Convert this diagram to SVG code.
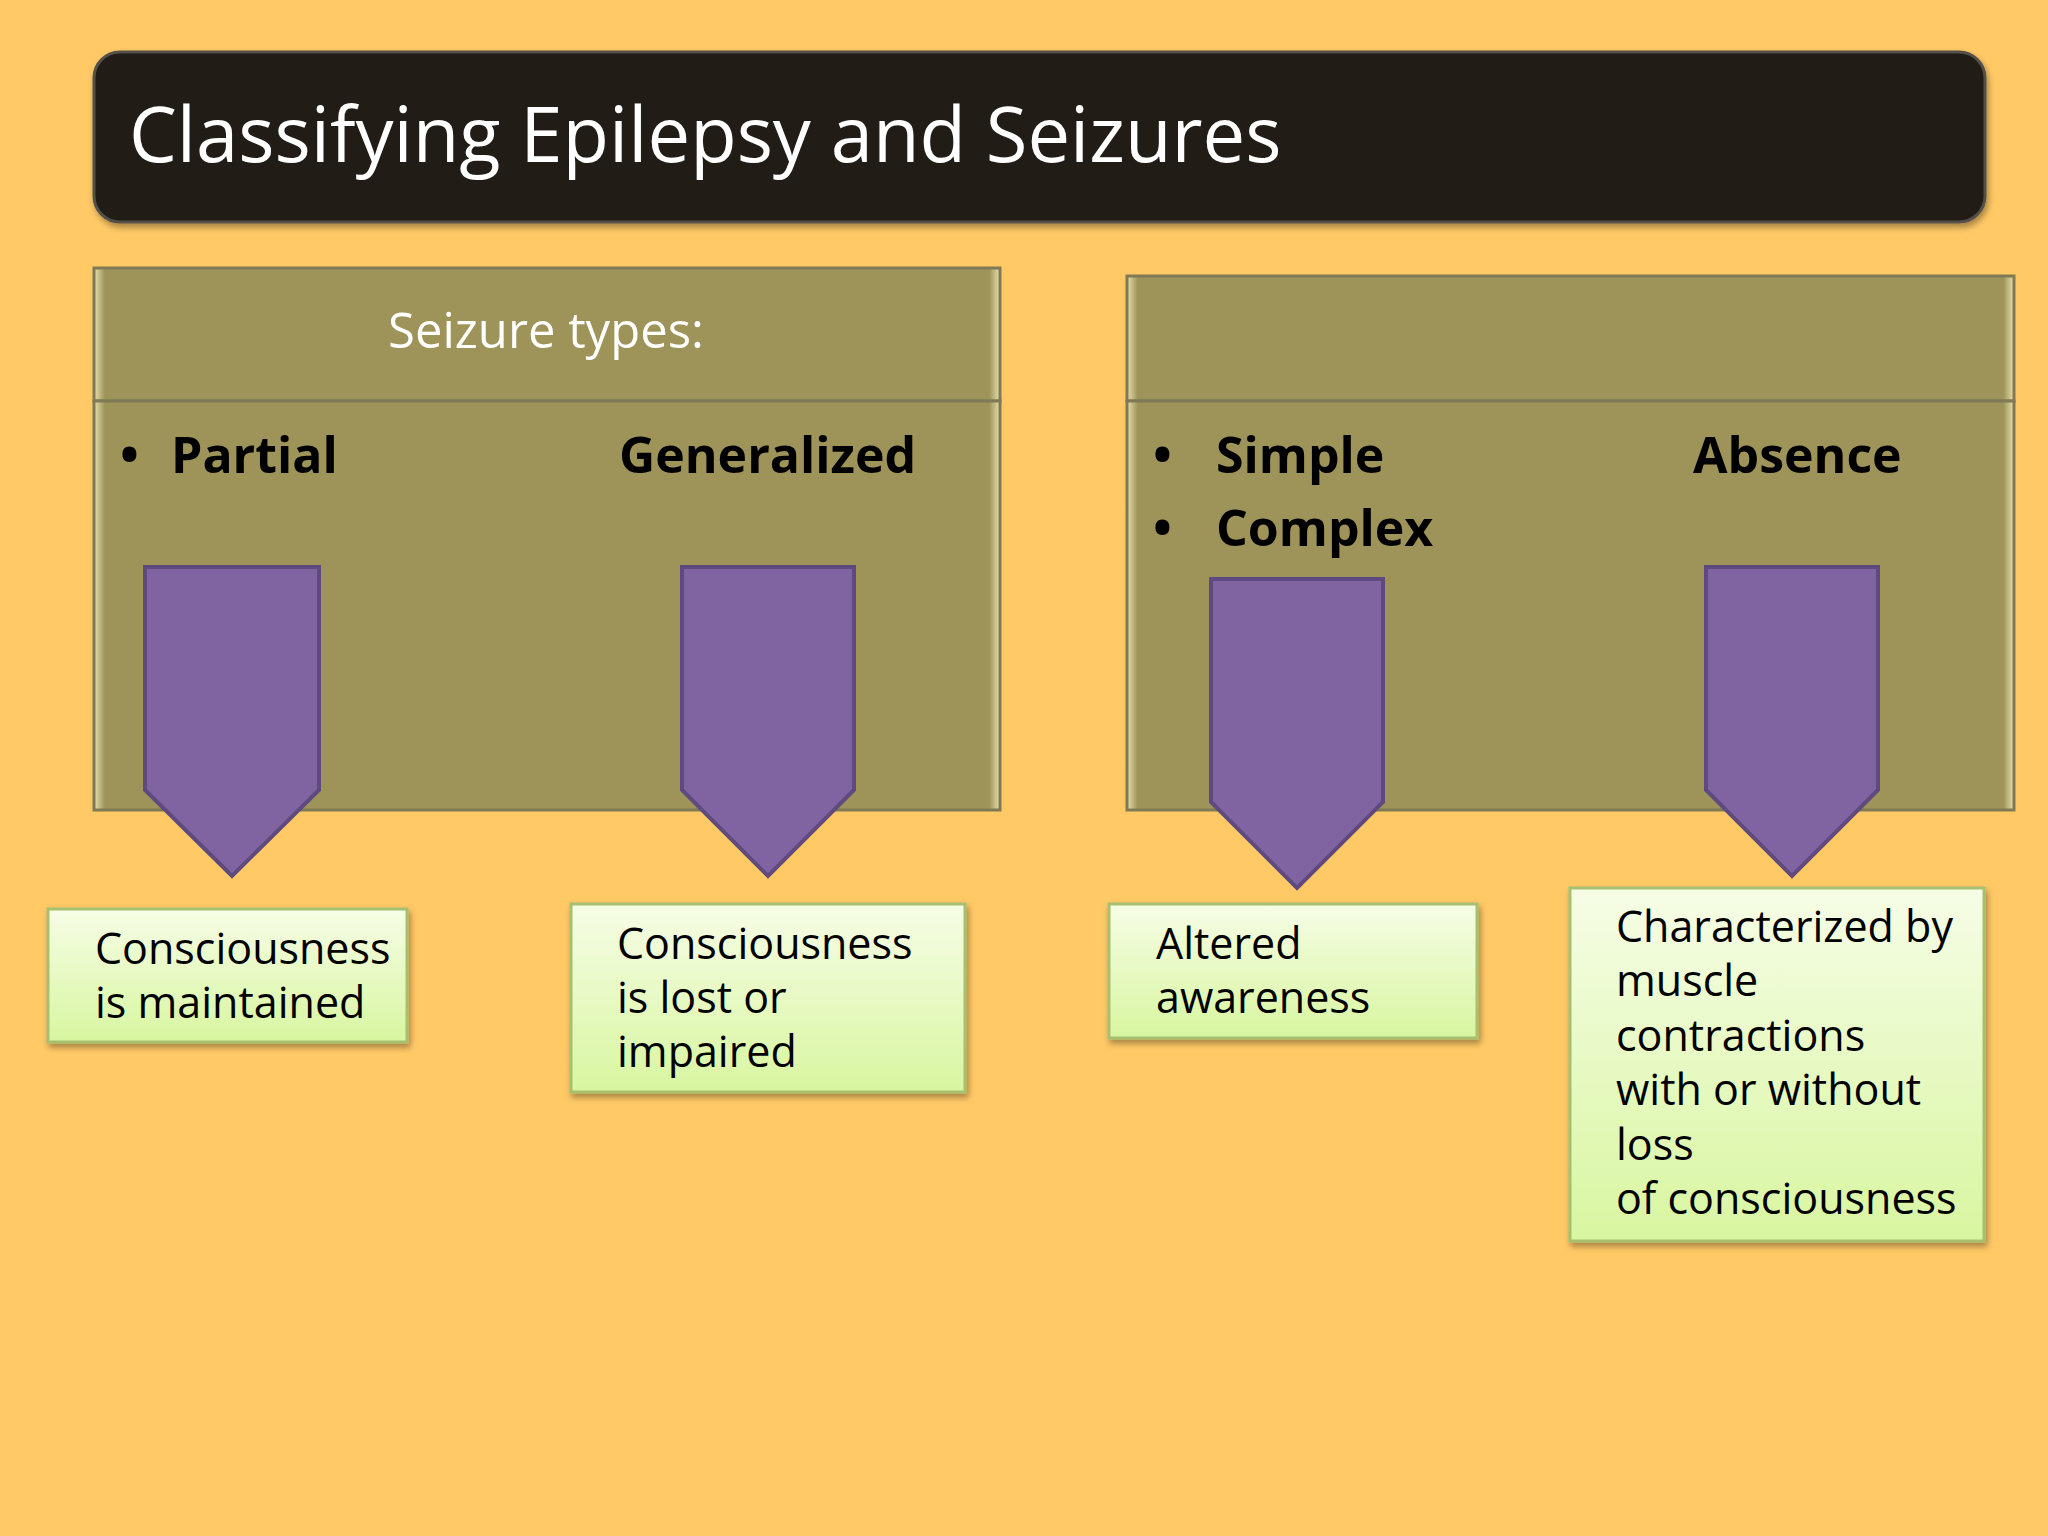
<svg xmlns="http://www.w3.org/2000/svg" width="2048" height="1536" viewBox="0 0 2048 1536">
<defs>
<linearGradient id="bx" x1="0" y1="0" x2="0" y2="1"><stop offset="0" stop-color="#F6FDE6"/><stop offset="1" stop-color="#D8F6A0"/></linearGradient>
<linearGradient id="bev" x1="0" y1="0" x2="1" y2="0"><stop offset="0" stop-color="#E8E2B0"/><stop offset="0.012" stop-color="#9E9358"/><stop offset="0.988" stop-color="#9E9358"/><stop offset="1" stop-color="#E8E2B0"/></linearGradient>
<filter id="sh" x="-5%" y="-5%" width="110%" height="120%"><feDropShadow dx="2" dy="4" stdDeviation="3" flood-color="#000" flood-opacity="0.35"/></filter>
</defs>
<style>
.pan{fill:url(#bev);stroke:#7F7A55;stroke-width:3}
.arr{fill:#8064A2;stroke:#5E4A7E;stroke-width:4}
.box{fill:url(#bx);stroke:#A6C070;stroke-width:3;filter:url(#sh)}
.t{font-family:"Open Sans","Noto Sans",sans-serif;font-size:43px;fill:#000}
.b{font-family:"Open Sans","Noto Sans",sans-serif;font-size:50px;font-weight:bold;fill:#000}
</style>
<rect width="2048" height="1536" fill="#FFC966"/>
<g id="title">
<rect x="94" y="52" width="1891" height="170" rx="26" fill="#231C17" stroke="#55504A" stroke-width="3" filter="url(#sh)"/>
<text x="129" y="162" font-family="Open Sans,Noto Sans,sans-serif" font-size="76" fill="#fff">Classifying Epilepsy and Seizures</text>
</g>
<g id="panel-left">
<rect class="pan" x="94" y="268" width="906" height="133"/>
<rect class="pan" x="94" y="401" width="906" height="409"/>
<text x="546" y="348" text-anchor="middle" font-family="Open Sans,Noto Sans,sans-serif" font-size="49" fill="#fff">Seizure types:</text>
<text class="b" x="120" y="473">•</text><text class="b" x="171" y="473">Partial</text>
<text class="b" x="619" y="473">Generalized</text>
</g>
<g id="panel-right">
<rect class="pan" x="1127" y="276" width="887" height="125"/>
<rect class="pan" x="1127" y="401" width="887" height="409"/>
<text class="b" x="1153" y="473">•</text><text class="b" x="1216" y="473">Simple</text>
<text class="b" x="1153" y="546">•</text><text class="b" x="1216" y="546">Complex</text>
<text class="b" x="1693" y="473">Absence</text>
</g>
<g id="connectors">
<polygon class="arr" points="145,567 319,567 319,790 232,876 145,790"/>
<polygon class="arr" points="682,567 854,567 854,790 768,876 682,790"/>
<polygon class="arr" points="1211,579 1383,579 1383,802 1297,888 1211,802"/>
<polygon class="arr" points="1706,567 1878,567 1878,790 1792,876 1706,790"/>
</g>
<g id="box1"><rect class="box" x="48" y="909" width="359" height="133"/>
<text class="t" x="95" y="964">Consciousness</text><text class="t" x="95" y="1018">is maintained</text></g>
<g id="box2"><rect class="box" x="571" y="904" width="394" height="188"/>
<text class="t" x="617" y="959">Consciousness</text><text class="t" x="617" y="1013">is lost or</text><text class="t" x="617" y="1067">impaired</text></g>
<g id="box3"><rect class="box" x="1109" y="904" width="368" height="134"/>
<text class="t" x="1156" y="959">Altered</text><text class="t" x="1156" y="1013">awareness</text></g>
<g id="box4"><rect class="box" x="1570" y="888" width="414" height="353"/>
<text class="t" x="1616" y="942">Characterized by</text><text class="t" x="1616" y="996">muscle</text><text class="t" x="1616" y="1051">contractions</text><text class="t" x="1616" y="1105">with or without</text><text class="t" x="1616" y="1160">loss</text><text class="t" x="1616" y="1214">of consciousness</text></g>
</svg>
